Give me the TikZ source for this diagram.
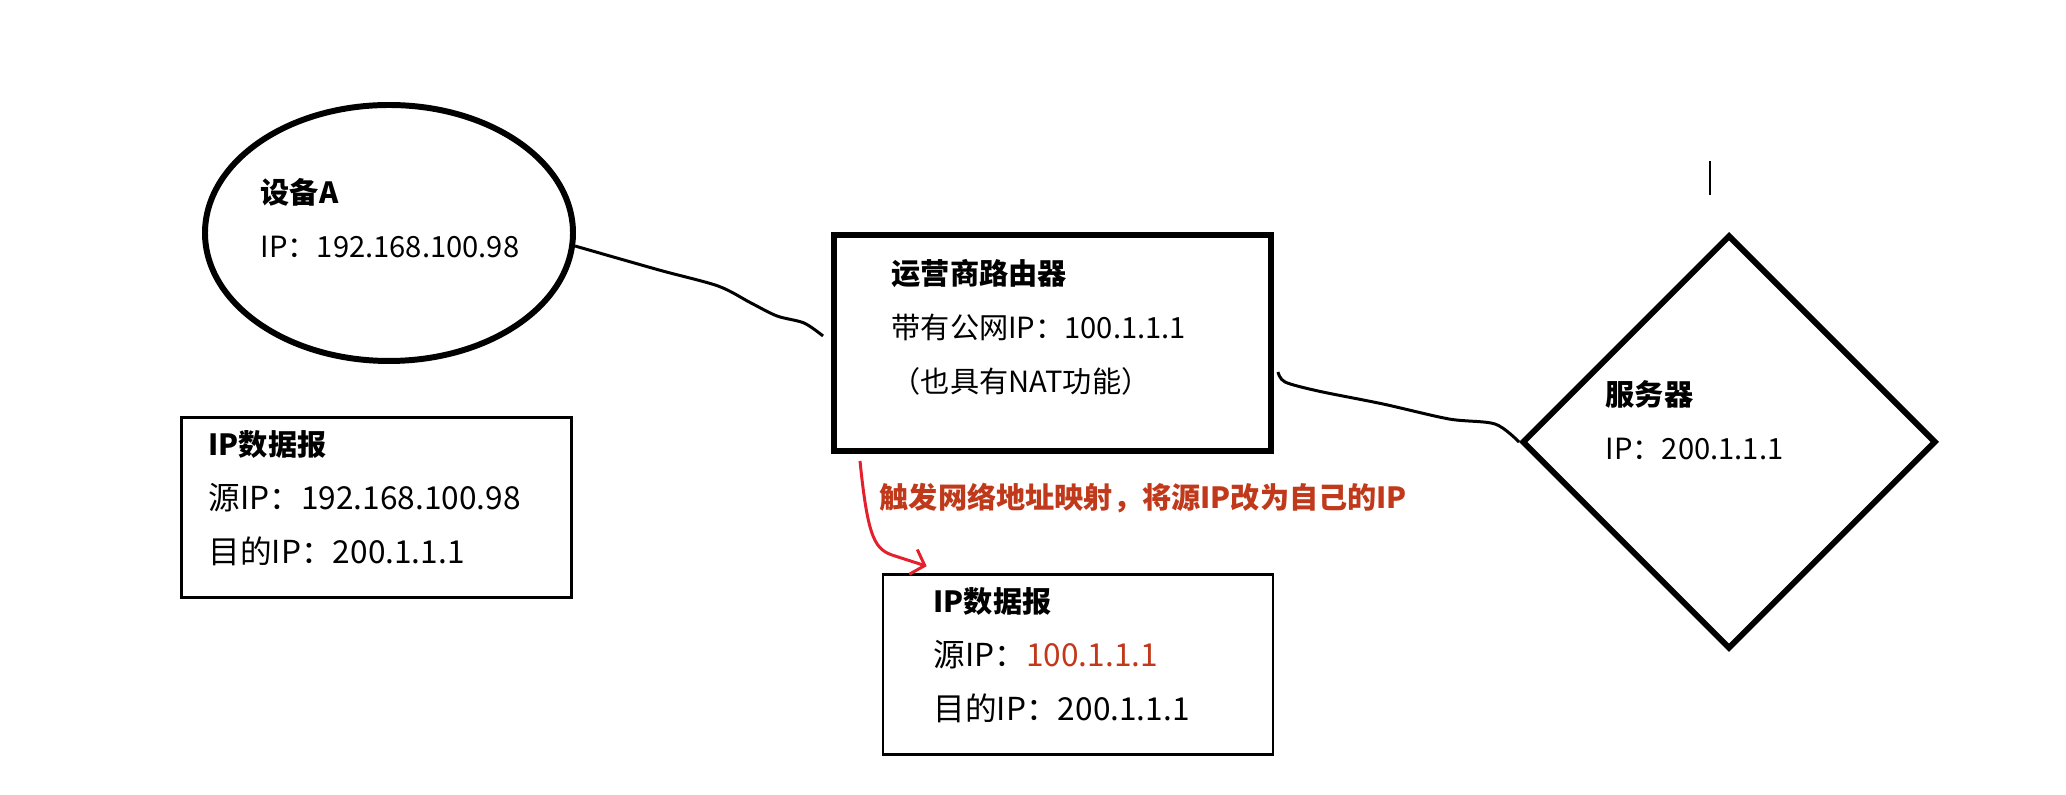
\documentclass[tikz,border=0pt]{standalone}
\usepackage{fontspec}
\setmainfont{Noto Sans CJK SC}
\usepackage{xcolor}
\usetikzlibrary{arrows.meta, positioning, shapes.geometric, calc}
\definecolor{natred}{HTML}{C0391B}
\definecolor{penred}{HTML}{E3202C}
\newcommand{\pktfont}{\fontsize{9pt}{15.4pt}\selectfont}

\begin{document}
\begin{tikzpicture}[
  every node/.style={font=\fontsize{8.3pt}{15.4pt}\selectfont},
  txt/.style={anchor=west, align=left, inner sep=0pt},
  heavy/.style={draw=black, line width=1.7pt, inner sep=0pt},
  pktbox/.style={rectangle, draw=black, line width=0.75pt, minimum width=3.9cm, minimum height=1.8cm, inner sep=0pt},
  wire/.style={line width=0.85pt},
]
\useasboundingbox (0,0) rectangle (20.66,-7.95);

% Device A
\node[heavy, ellipse, minimum width=3.68cm, minimum height=2.56cm] (dev) at (3.89, -2.33) {};
\node[txt] (devtxt) at (2.60, -2.18) {\textbf{设备A}\\IP：192.168.100.98};

% Carrier router
\node[heavy, rectangle, minimum width=4.37cm, minimum height=2.16cm] (rt) at (10.525, -3.43) {};
\node[txt] (rttxt) at (8.91, -3.27) {\textbf{运营商路由器}\\带有公网IP：100.1.1.1\\（也具有NAT功能）};

% Server
\node[heavy, diamond, shape aspect=1, minimum size=4.14cm] (srv) at (17.29, -4.42) {};
\node[txt] (srvtxt) at (16.05, -4.20) {\textbf{服务器}\\IP：200.1.1.1};

% Datagram before / after
\node[pktbox] (pkt1) at (3.765, -5.075) {};
\node[txt] (pkt1txt) at (2.08, -4.98) {\textbf{IP数据报}\\{\pktfont 源IP：192.168.100.98}\\{\pktfont 目的IP：200.1.1.1}};
\node[pktbox] (pkt2) at (10.78, -6.645) {};
\node[txt] (pkt2txt) at (9.33, -6.55) {\textbf{IP数据报}\\{\pktfont 源IP：\textcolor{natred}{100.1.1.1}}\\{\pktfont 目的IP：200.1.1.1}};

% NAT note
\node[txt, text=natred, font=\fontsize{8.3pt}{15.4pt}\selectfont\bfseries] (note) at (8.79, -4.98) {触发网络地址映射，将源IP改为自己的IP};

% Cursor
\coordinate (curtop) at (17.10, -1.61);
\coordinate (curbot) at (17.10, -1.95);
\draw[line width=0.6pt] (curtop) -- (curbot);

% Links
\draw[wire] plot[smooth, tension=0.5] coordinates {(dev.-4) (6.59,-2.70) (7.18,-2.86) (7.51,-3.03) (7.77,-3.16) (8.04,-3.23) ($(rt.west)+(-0.08,0.07)$)};
\draw[wire] plot[smooth, tension=0.5] coordinates {($(rt.east)+(0.04,-0.29)$) (12.85,-3.82) (13.18,-3.91) (13.83,-4.04) (14.49,-4.19) (14.95,-4.24) (srv.west)};

% NAT arrow
\draw[wire, penred, -{Straight Barb[length=1.2mm, width=2.6mm]}] ($(rt.south west)+(0.29,-0.07)$) .. controls (8.68,-5.40) and (8.75,-5.50) .. (8.95,-5.56) -- ($(pkt2.north west)+(0.45,0.07)$);

\end{tikzpicture}
\end{document}
